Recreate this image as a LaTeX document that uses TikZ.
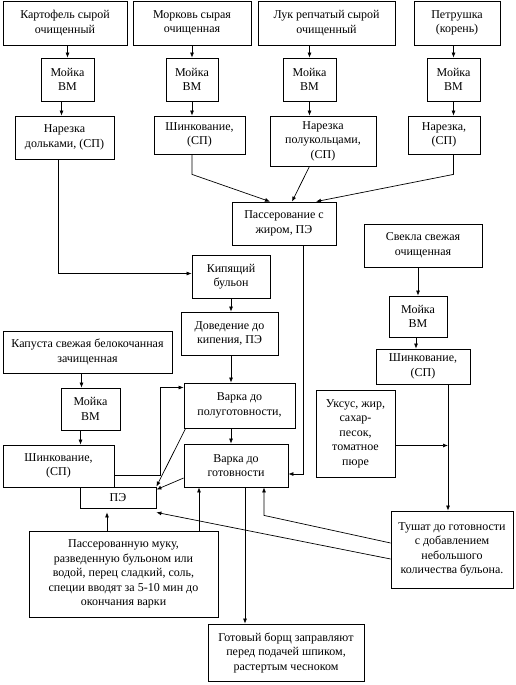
\documentclass[tikz,border=0pt]{standalone}
\usepackage{fontspec}
\setmainfont{Liberation Serif}
\usetikzlibrary{arrows.meta}

\begin{document}
\begin{tikzpicture}[x=1pt, y=-1pt, >={Latex[length=5pt,width=4pt]},
    blk/.style={draw, line width=0.8pt, align=center, inner sep=1pt,
        font=\fontsize{12}{14.5}\selectfont},
    conn/.style={line width=0.7pt, ->}]
\useasboundingbox (0,0) rectangle (516,685);

% Raw vegetables (top row)
\node[blk, minimum width=124pt, minimum height=44pt] (kart) at (65,23) {Картофель сырой\\очищенный};
\node[blk, minimum width=118pt, minimum height=44pt] (mork) at (192,23) {Морковь сырая\\очищенная};
\node[blk, minimum width=137pt, minimum height=44pt] (luk) at (326.5,23) {Лук репчатый сырой\\очищенный};
\node[blk, minimum width=86pt, minimum height=44pt] (petr) at (457,23) {Петрушка\\(корень)};

% Washing
\node[blk, minimum width=53pt, minimum height=43pt] (m1) at (67.5,79.5) {Мойка\\ВМ};
\node[blk, minimum width=52pt, minimum height=43pt] (m2) at (192,79.5) {Мойка\\ВМ};
\node[blk, minimum width=53pt, minimum height=43pt] (m3) at (309.5,79.5) {Мойка\\ВМ};
\node[blk, minimum width=53pt, minimum height=43pt] (m4) at (453.5,79.5) {Мойка\\ВМ};

% Cutting
\node[blk, minimum width=99pt, minimum height=43pt] (n1) at (64.5,137.5) {Нарезка\\дольками, (СП)};
\node[blk, minimum width=91pt, minimum height=38pt] (n2) at (199.5,135) {Шинкование,\\(СП)};
\node[blk, minimum width=106pt, minimum height=50pt] (n3) at (323,141) {Нарезка\\полукольцами,\\(СП)};
\node[blk, minimum width=72pt, minimum height=38pt] (n4) at (444,135) {Нарезка,\\(СП)};

% Frying and broth
\node[blk, minimum width=104pt, minimum height=43pt] (pass) at (284,223.5) {Пассерование с\\жиром, ПЭ};
\node[blk, minimum width=78pt, minimum height=43pt] (kip) at (231,276.5) {Кипящий\\бульон};
\node[blk, minimum width=97pt, minimum height=43pt] (dov) at (229.5,333.5) {Доведение до\\кипения, ПЭ};

% Beet branch
\node[blk, minimum width=118pt, minimum height=43pt] (svek) at (423,245.5) {Свекла свежая\\очищенная};
\node[blk, minimum width=58pt, minimum height=41pt] (mb) at (418,316.5) {Мойка\\ВМ};
\node[blk, minimum width=94pt, minimum height=35pt] (shb) at (423,366.5) {Шинкование,\\(СП)};
\node[blk, minimum width=79pt, minimum height=87pt] (uks) at (355.5,433.5) {Уксус, жир,\\сахар-\\песок,\\томатное\\пюре};
\node[blk, minimum width=122pt, minimum height=77pt] (tush) at (452,549.5) {Тушат до готовности\\с добавлением\\небольшого\\количества бульона.};

% Cabbage branch
\node[blk, minimum width=169pt, minimum height=42pt] (kap) at (87.5,352) {Капуста свежая белокочанная\\зачищенная};
\node[blk, minimum width=59pt, minimum height=42pt] (mk) at (90.5,409) {Мойка\\ВМ};
\node[blk, minimum width=111pt, minimum height=42pt] (shk) at (58.5,466) {Шинкование,\\(СП)};
\node[blk, minimum width=76pt, minimum height=21pt] (pe) at (118,497.5) {ПЭ};

% Cooking
\node[blk, minimum width=111pt, minimum height=45pt] (vp) at (239.5,405.5) {Варка до\\полуготовности,};
\node[blk, minimum width=104pt, minimum height=43pt] (vg) at (236,465.5) {Варка до\\готовности};
\node[blk, minimum width=189pt, minimum height=86pt] (pasm) at (123.5,574) {Пассерованную муку,\\разведенную бульоном или\\водой, перец сладкий, соль,\\специи вводят за 5-10 мин до\\окончания варки};
\node[blk, minimum width=156pt, minimum height=57pt] (got) at (286,652.5) {Готовый борщ заправляют\\перед подачей шпиком,\\растертым чесноком};

% Top rows
\draw[conn] (m1.north |- kart.south) -- (m1.north);
\draw[conn] (m2.north |- mork.south) -- (m2.north);
\draw[conn] (m3.north |- luk.south) -- (m3.north);
\draw[conn] (m4.north |- petr.south) -- (m4.north);
\draw[conn] ([xshift=-6pt]m1.south) -- ([xshift=-6pt]m1.south |- n1.north);
\draw[conn] (m2.south) -- (m2.south |- n2.north);
\draw[conn] (m3.south) -- (m3.south |- n3.north);
\draw[conn] (m4.south) -- (m4.south |- n4.north);

% Into frying and broth
\draw[conn] (n2.south -| m2.south) -- ++(0,20) -- ([xshift=-14pt]pass.north);
\draw[conn] (n3.south -| m3.south) -- ([xshift=8pt]pass.north);
\draw[conn] (n4.south -| m4.south) -- ++(0,20) -- ([xshift=32pt]pass.north);
\draw[conn] ([xshift=-6pt]n1.south) |- ([yshift=3pt]kip.west);
\draw[conn] (kip) -- (kip |- dov.north);
\draw[conn] (dov.south -| kip) -- (vp.north -| kip);
\draw[conn] (vp.south -| kip) -- (vg.north -| kip);
\draw[conn] ([xshift=19pt]pass.south) |- ([yshift=-8.5pt]vg.east);

% Beet
\draw[conn] (mb.north |- svek.south) -- (mb.north);
\draw[conn] ([xshift=-2pt]mb.south) -- ([xshift=-2pt]mb.south |- shb.north);
\draw[conn] ([xshift=-4pt]tush.north |- shb.south) -- ([xshift=-4pt]tush.north);
\coordinate (uj) at ([yshift=-12pt]uks.east);
\draw[conn] (uj) -- ([xshift=-4pt]tush.north |- uj);

% Cabbage
\draw[conn] ([xshift=-9pt]mk.north |- kap.south) -- ([xshift=-9pt]mk.north);
\draw[conn] ([xshift=-10pt]mk.south) -- ([xshift=-10pt]mk.south |- shk.north);
\draw[conn] ([yshift=-9pt]shk.east) -- ++(46,0) |- ([yshift=18pt]vp.west);

% Into PE and final cooking
\draw[conn] ([xshift=2pt]vp.south west) -- (pe.north east);
\draw[conn] ([yshift=-12.5pt]vg.west) -- ([yshift=-3pt]pe.north east);
\draw[conn] ([xshift=-11pt]pe.south |- pasm.north) -- ([xshift=-11pt, yshift=-4pt]pe.south);
\draw[conn] ([yshift=-9.5pt]tush.west) -- ([yshift=-4pt]pe.south east);
\draw[conn] ([yshift=6.5pt]tush.west) -- ([xshift=28pt, yshift=-28pt]vg.south) -- ([xshift=28pt]vg.south);
\draw[conn] ([xshift=-37pt]vg.south |- pasm.north) -- ([xshift=-37pt]vg.south);
\draw[conn] ([xshift=9pt]vg.south) -- ([xshift=9pt]vg.south |- got.north);
\end{tikzpicture}
\end{document}
